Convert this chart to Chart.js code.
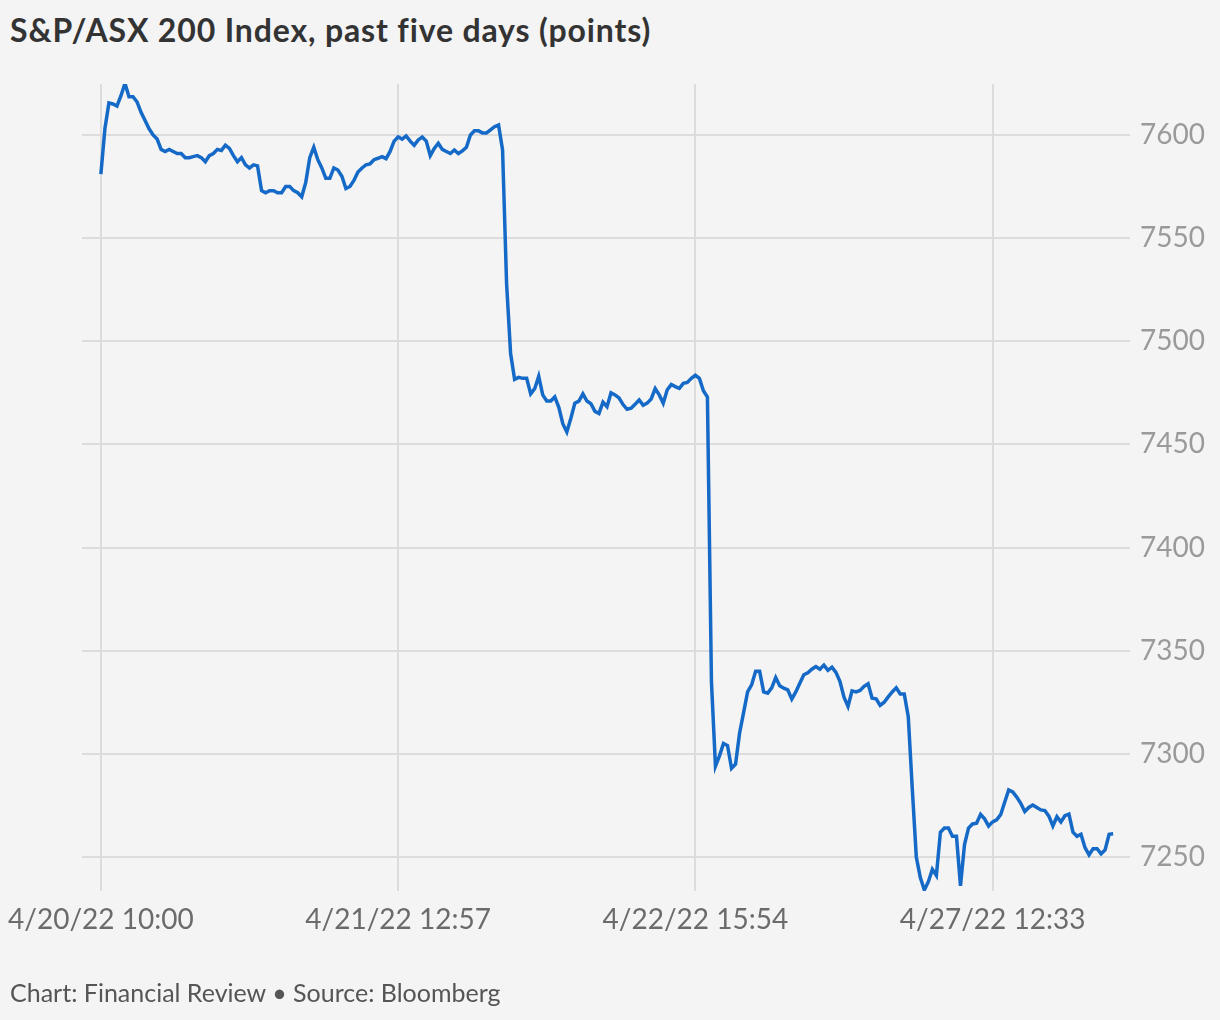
<!DOCTYPE html>
<html>
<head>
<meta charset="utf-8">
<script src="https://cdn.jsdelivr.net/npm/chart.js@4/dist/chart.umd.min.js"></script>
<style>
  html, body { margin: 0; padding: 0; background: #f4f4f4; }
  body { width: 1220px; height: 1020px; position: relative; overflow: hidden; }
  #title { position: absolute; left: 10px; top: 10px; font-family: Lato, sans-serif; font-weight: 700; font-size: 32px; letter-spacing: 0.85px; color: #333; white-space: nowrap; }
  #footer { position: absolute; left: 10px; top: 977px; font-family: Lato, sans-serif; font-size: 25px; color: #555; white-space: nowrap; }
  #wrap { position: absolute; left: 0; top: 0; width: 1220px; height: 1020px; }
</style>
</head>
<body>
<div id="title">S&amp;P/ASX 200 Index, past five days (points)</div>
<div id="wrap"><canvas id="c" width="1220" height="1020"></canvas></div>
<div id="footer">Chart: Financial Review • Source: Bloomberg</div>
<script>
const indexValues = [
  7581, 7603, 7615.5, 7615, 7614, 7619, 7625, 7618.5, 7618.5, 7616,
  7611, 7607, 7603, 7600, 7598, 7593, 7592, 7593, 7592, 7591,
  7591, 7589, 7589, 7589.5, 7590, 7589, 7587, 7590, 7591, 7593,
  7592.5, 7595, 7593.5, 7590, 7587, 7589, 7585.5, 7584, 7585.5, 7585,
  7573, 7572, 7573, 7573, 7572, 7572, 7575, 7575, 7573, 7572,
  7570, 7577, 7589, 7594, 7588, 7584, 7579, 7579, 7584, 7583,
  7580, 7574, 7575, 7578, 7582, 7584, 7585.5, 7586, 7588, 7588.7,
  7589.5, 7588.5, 7592, 7597, 7599, 7598, 7599.5, 7597, 7595, 7597.6,
  7599, 7597, 7590, 7593.5, 7596, 7593, 7592, 7591, 7592.7, 7591,
  7592.3, 7594, 7600, 7602, 7602, 7601, 7601, 7602.5, 7604, 7604.8,
  7592.7, 7528, 7494, 7481.5, 7482.5, 7482, 7482, 7474.5, 7477, 7483,
  7474, 7471, 7471, 7473, 7468, 7460, 7456, 7462.7, 7470, 7471,
  7474.5, 7471, 7469.7, 7466, 7465, 7470.5, 7468.3, 7475, 7474, 7472.5,
  7469.3, 7467, 7467.5, 7469.5, 7471.5, 7469, 7470, 7472, 7477, 7474,
  7470, 7476.5, 7479, 7478, 7477.2, 7479.6, 7480, 7482, 7483.5, 7482,
  7476, 7473, 7335, 7294, 7299, 7305, 7304, 7293, 7295, 7310,
  7320, 7330, 7333.4, 7340, 7340, 7330, 7329.4, 7332, 7337, 7333,
  7331.8, 7331, 7326.5, 7330, 7334.2, 7338.3, 7339.3, 7341, 7342.3, 7341,
  7343, 7340.5, 7342, 7339.5, 7335, 7327.5, 7323, 7330.5, 7330, 7330.7,
  7332.7, 7334, 7327, 7326.7, 7323.5, 7325, 7327.6, 7330, 7332, 7329,
  7329, 7318, 7283, 7250, 7240, 7234, 7238, 7244, 7241, 7262,
  7264, 7264, 7260, 7260, 7236, 7256, 7264, 7266, 7266.4, 7270.6,
  7268.5, 7265, 7267, 7268, 7270.5, 7276.5, 7282.5, 7281.5, 7279, 7276,
  7272, 7274, 7275.2, 7274, 7272.8, 7272.5, 7269.8, 7265, 7269.5, 7267,
  7270, 7270.8, 7262, 7260, 7261, 7254.5, 7251, 7254, 7254, 7251.5,
  7253.4, 7261, 7261.2
];
const xTickIndices = [0, 74, 148, 222];
const xTickLabels = ["4/20/22 10:00", "4/21/22 12:57", "4/22/22 15:54", "4/27/22 12:33"];
const yTickValues = [7250, 7300, 7350, 7400, 7450, 7500, 7550, 7600];

const points = indexValues.map((v, i) => ({ x: i, y: v }));

new Chart(document.getElementById('c'), {
  type: 'line',
  data: {
    datasets: [{
      data: points,
      borderColor: '#1569c7',
      borderWidth: 3.5,
      pointRadius: 0,
      tension: 0,
      fill: false
    }]
  },
  options: {
    responsive: false,
    animation: false,
    devicePixelRatio: 1,
    layout: { padding: { left: 82, top: 84, right: 0, bottom: 79 } },
    plugins: { legend: { display: false }, tooltip: { enabled: false } },
    scales: {
      x: {
        type: 'linear',
        min: -4.7,
        max: 256.2,
        afterBuildTicks: (s) => { s.ticks = xTickIndices.map(v => ({ value: v })); },
        afterFit: (s) => { s.height = 50; s.paddingLeft = 0; s.paddingRight = 0; },
        grid: { color: '#dcdcdc', lineWidth: 2, drawTicks: false },
        border: { display: false },
        ticks: {
          autoSkip: false,
          maxRotation: 0,
          padding: 12,
          color: '#6b6b6b',
          font: { family: 'Lato', size: 28 },
          callback: (v) => { const k = xTickIndices.indexOf(v); return k >= 0 ? xTickLabels[k] : ''; }
        }
      },
      y: {
        position: 'right',
        min: 7233.5,
        max: 7624.7,
        afterBuildTicks: (s) => { s.ticks = yTickValues.map(v => ({ value: v })); },
        afterFit: (s) => { s.width = 90; s.paddingTop = 0; s.paddingBottom = 0; },
        grid: { color: '#dcdcdc', lineWidth: 2, drawTicks: false },
        border: { display: false },
        ticks: {
          padding: 10,
          color: '#9a9a9a',
          font: { family: 'Lato', size: 28 },
          callback: (v) => String(v)
        }
      }
    }
  }
});
</script>
</body>
</html>
